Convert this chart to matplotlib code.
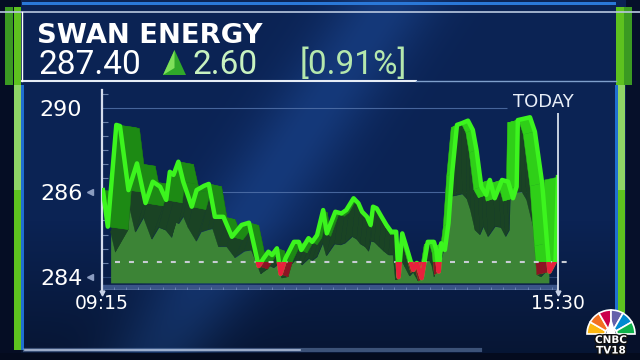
import numpy as np
import matplotlib.pyplot as plt
from matplotlib.patches import Rectangle, Polygon, Wedge
from matplotlib.collections import PolyCollection
import matplotlib.patheffects as pe

stock = "SWAN ENERGY"
last_price = "287.40"
change = "2.60"
change_pct = "[0.91%]"

# minutes after 09:15 and the traded price
mins = [1, 5, 12, 15, 22, 29, 36, 42, 48, 53, 56, 59, 63, 67, 74, 78, 84, 88,
        93, 100, 107, 115, 121, 129, 133, 137, 140, 144, 147, 151, 158, 162,
        164, 170, 173, 177, 182, 185, 192, 197, 201, 207, 211, 214, 218, 221,
        223, 226, 230, 234, 238, 242, 244, 247, 252, 256, 259, 263, 268, 273,
        275, 277, 279, 282, 285, 288, 292, 296, 301, 305, 308, 312, 316, 319,
        323, 329, 334, 338, 341, 342, 352, 356, 362, 366, 368, 373, 375]
prices = [287.08, 285.78, 289.40, 289.36, 287.08, 288.03, 286.62, 287.38,
          287.20, 286.73, 287.73, 287.62, 288.09, 287.38, 286.49, 287.08,
          287.23, 287.30, 286.13, 286.13, 285.42, 285.84, 285.92, 284.38,
          284.65, 284.89, 284.77, 285.01, 284.10, 284.65, 285.24, 285.24,
          284.95, 285.37, 285.24, 285.48, 286.37, 285.54, 286.31, 286.25,
          286.37, 286.79, 286.61, 286.31, 286.13, 285.84, 286.49, 286.43,
          286.13, 285.84, 285.60, 285.60, 283.99, 285.54, 284.83, 284.24,
          284.49, 283.95, 285.24, 285.24, 284.95, 284.18, 285.19, 284.95,
          285.90, 287.68, 289.40, 289.46, 289.55, 289.22, 288.51, 287.20,
          286.91, 287.44, 286.79, 287.44, 287.38, 286.79, 287.20, 289.57,
          289.67, 289.16, 287.32, 285.19, 284.18, 284.59, 287.54]
ref_level = 284.53          # dashed previous-close line as drawn

# the graphic puts its "286" label on the 287 gridline
ytick_vals = [284, 287, 290]
ytick_labels = ["284", "286", "290"]
xtick_vals = [0, 375]
xtick_labels = ["09:15", "15:30"]

x = np.array(mins, dtype=float)
y = np.array(prices)

fig = plt.figure(figsize=(6.4, 3.6), dpi=100)

# ---------- background layer in pixel coordinates ----------
bg = fig.add_axes([0, 0, 1, 1])
bg.set_xlim(0, 640)
bg.set_ylim(360, 0)
bg.axis("off")

H, W = 360, 640
yy, xx = np.mgrid[0:H, 0:W].astype(float)
img = np.ones((H, W, 3)) * np.array([11, 35, 84]) / 255
fade = np.clip((yy - 220) / 140, 0, 1)[..., None]
img = img * (1 - 0.4 * fade)
beam = np.exp(-((xx - (390 - 0.66 * yy)) / 55) ** 2)[..., None]
img = img + beam * np.array([10, 22, 38]) / 255
img[:, :21] = np.array([5, 13, 36]) / 255
img[:, 626:] = np.array([6, 16, 42]) / 255
img[353:, :] = np.array([4, 11, 30]) / 255
bg.imshow(np.clip(img, 0, 1), extent=(0, 640, 360, 0), aspect="auto")

# header frame
bg.add_patch(Rectangle((22, 1.5), 594, 3.5, fc="#2a78d8", ec="none"))
bg.plot([0, 640], [11.7, 11.7], color="#b8c8e0", lw=1.2)
bg.plot([22, 416], [81, 81], color="#e6edf6", lw=1.5)
bg.plot([416, 616], [81, 81], color="#7f9fcc", lw=1.0)
bg.plot([22.4, 22.4], [11.7, 81], color="white", lw=1)

# green side bars
bg.add_patch(Rectangle((5, 7), 8, 78, fc="#3b9a22", ec="none"))
bg.add_patch(Rectangle((13.5, 7), 7.5, 343, fc="#5ec21f", ec="none"))
bg.add_patch(Rectangle((13.5, 85), 7.5, 105, fc="#8fd566", ec="none"))
bg.add_patch(Rectangle((21, 85), 2.5, 265, fc="#1f6fd0", ec="none"))
bg.add_patch(Rectangle((616, 7), 8, 78, fc="#5ec21f", ec="none"))
bg.add_patch(Rectangle((624, 7), 8, 78, fc="#3b9a22", ec="none"))
bg.add_patch(Rectangle((618, 85), 7, 228, fc="#5ec21f", ec="none"))
bg.add_patch(Rectangle((618, 85), 7, 105, fc="#8fd566", ec="none"))
bg.add_patch(Rectangle((614.5, 85), 3.5, 228, fc="#1f6fd0", ec="none"))

# bottom light streak
bg.plot([25, 480], [350, 350], color="#7f9ccc", lw=3, alpha=0.45)
bg.plot([25, 300], [350, 350], color="#c8d6ee", lw=1.2, alpha=0.8)

# header texts
bg.text(36.7, 43.3, stock, color="white", fontsize=19.7, fontweight="bold",
        va="baseline", ha="left")
bg.text(38.8, 74, last_price, color="white", fontsize=24, family="Roboto",
        va="baseline", ha="left")
bg.add_patch(Polygon([(163, 75), (186, 75), (174.5, 50)], fc="#2fa82a", ec="none"))
bg.add_patch(Polygon([(163, 75), (174.5, 68), (174.5, 50)], fc="#7ee05a", ec="none"))
bg.text(192, 74, change, color="#c8f2c0", fontsize=24, family="Roboto",
        va="baseline", ha="left")
bg.text(300, 74, change_pct, color="#b5e8ad", fontsize=24, family="Roboto",
        va="baseline", ha="left")
bg.text(543, 102, "TODAY", color="#e8eef8", fontsize=13, ha="center", va="center")

# CNBC-TV18 bug (y axis is flipped here, so 180..360 is the upper half)
feathers = ["#fcb711", "#f37021", "#cc004c", "#6460aa", "#0089d0", "#0db14b"]
for i, c in enumerate(feathers):
    t1 = 180 + i * 30
    bg.add_patch(Wedge((611, 334), 24, t1, t1 + 30, width=18, fc=c, ec="white",
                       lw=1.2))
bg.add_patch(Polygon([(606, 334), (616, 334), (611, 318)], fc="white", ec="none"))
stroke = [pe.withStroke(linewidth=2, foreground="#111111")]
bg.text(611, 340, "CNBC", color="white", fontsize=7.5, fontweight="bold",
        ha="center", va="center", path_effects=stroke)
bg.text(611, 350.5, "TV18", color="white", fontsize=7.5, fontweight="bold",
        ha="center", va="center", path_effects=stroke)

# ---------- chart ----------
ax = fig.add_axes([101.7 / 640, 70 / 360, 456.3 / 640, 200 / 360])
ax.set_xlim(0, 375)
ax.set_ylim(283.527, 290.64)
ax.patch.set_alpha(0)
for s in ["top", "right", "bottom"]:
    ax.spines[s].set_visible(False)
ax.spines["left"].set_color("#d4dcec")
ax.spines["left"].set_linewidth(1.6)

ax.set_yticks(ytick_vals)
ax.set_yticklabels(ytick_labels, color="white", fontsize=16)
ax.set_xticks(xtick_vals)
ax.set_xticklabels(xtick_labels, color="white", fontsize=13.5)
ax.tick_params(axis="y", length=0, pad=14)
ax.tick_params(axis="x", length=0, pad=3)
ax.yaxis.set_minor_locator(plt.MultipleLocator(0.5))
ax.tick_params(axis="y", which="minor", direction="in", length=4,
               color="#6a80a8", width=0.8)

# grid
ax.hlines(290, 0, 333, color="#5575ad", lw=0.8, alpha=0.8)
ax.hlines(287, 0, 375, color="#5575ad", lw=0.8, alpha=0.8)
ax.hlines(284, 0, 375, color="#5575ad", lw=0.8, alpha=0.4)
for v in ytick_vals[:2]:
    ax.plot(-0.0256, v, marker="<", ms=4, color="#8a9cc0",
            transform=ax.get_yaxis_transform(), clip_on=False)

# bottom axis band
base = 283.78
ax.axhspan(283.527, 283.72, color="#3a5488", zorder=1)
ax.vlines(np.arange(0, 376, 10), 283.527, 283.64, color="#7088b8", lw=0.6,
          zorder=1)
ax.axhline(283.53, color="#9fb2d6", lw=1, zorder=1)

# 3D look: back face, shadow and ribbon side
cx_back, s_back, k_back = 172.0, 0.963, 0.55
bx = cx_back + s_back * (x - cx_back)
by = base + k_back * (y - base)
cx_rib = 229.0
rx = x + 0.075 * (cx_rib - x)
ry = y - 0.1

ax.fill_between(bx, base, by, color="#3c8436", lw=0, zorder=2)
shadow = [[(rx[i], ry[i]), (rx[i + 1], ry[i + 1]), (bx[i + 1], by[i + 1]),
           (bx[i], by[i])] for i in range(len(x) - 1)]
ax.add_collection(PolyCollection(shadow, facecolors="#1a4324",
                                 edgecolors="#1a4324", lw=0.3, zorder=3))
ribbon = [[(x[i], y[i]), (x[i + 1], y[i + 1]), (rx[i + 1], ry[i + 1]),
           (rx[i], ry[i])] for i in range(len(x) - 1)]
rib_cols = ["#1d8a14" if x[i] < cx_rib else "#2fcf18" for i in range(len(x) - 1)]
ax.add_collection(PolyCollection(ribbon, facecolors=rib_cols,
                                 edgecolors=rib_cols, lw=0.3, zorder=4))

# below the reference line the ribbon and the line turn red
below = Rectangle((-10, 283.0), 400, ref_level - 283.0, transform=ax.transData)
red_rib = PolyCollection(ribbon, facecolors="#8c1424", edgecolors="#8c1424",
                         lw=0.3, zorder=5)
ax.add_collection(red_rib)
red_rib.set_clip_path(below)
ax.fill_between(x, y, ref_level, where=y < ref_level, interpolate=True,
                color="#e8203c", lw=0, zorder=5.5)

ax.hlines(ref_level, 11, 386, color="#c8ccd4", lw=1.5,
          linestyles=(0, (2.4, 4.3)), zorder=6, clip_on=False)
ax.plot(x, y, color="#3cf51e", lw=3.2, solid_joinstyle="round", zorder=7)
red_line, = ax.plot(x, y, color="#e8203c", lw=3.2, solid_joinstyle="round",
                    zorder=7.5)
red_line.set_clip_path(below)

# "today" marker line and end arrows
ax.vlines(375, 283.45, 289.82, color="#e8eef8", lw=1.2, zorder=8, clip_on=False)
for v in xtick_vals:
    ax.plot(v, 283.42, marker="v", ms=3.5, color="#c8d2e6", clip_on=False,
            zorder=8)

fig.savefig("out.png", dpi=100)
